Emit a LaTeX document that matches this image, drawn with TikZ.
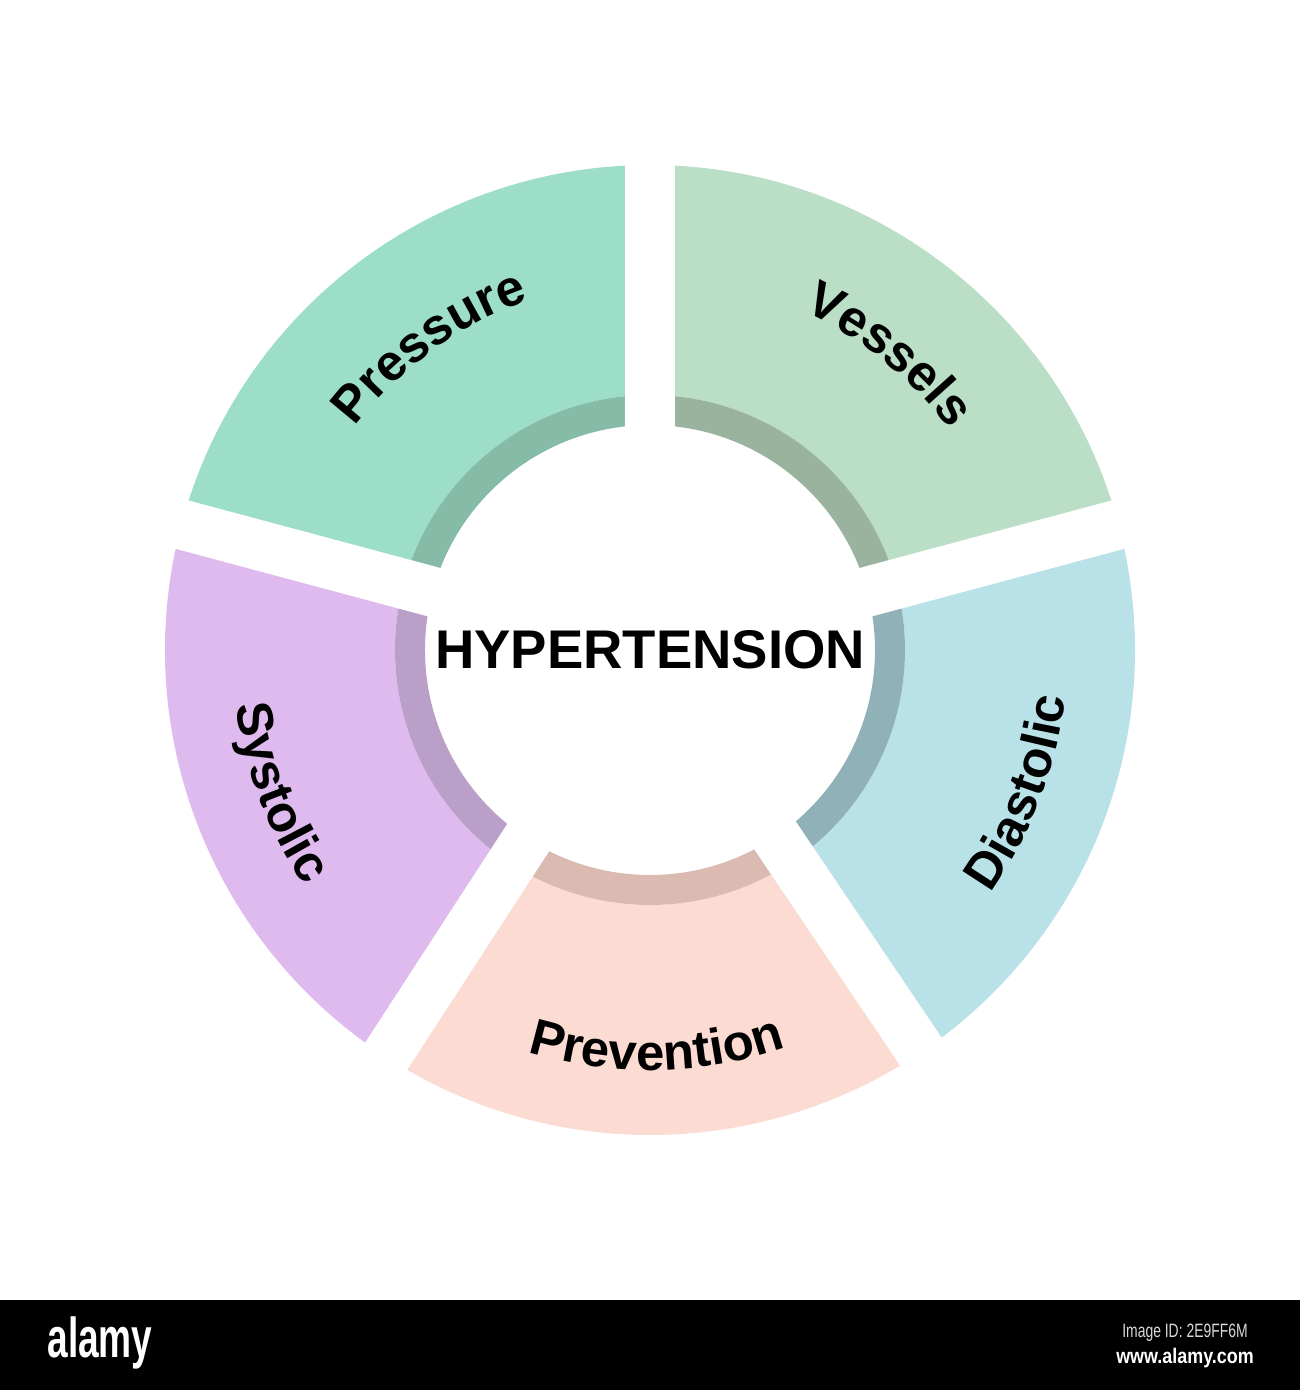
\documentclass[tikz,border=0pt]{standalone}
\usepackage{fontspec}
\setmainfont{Liberation Sans}
\usetikzlibrary{decorations.text}

\definecolor{pressurefill}{HTML}{9DDEC8}
\definecolor{pressureband}{HTML}{85BBA7}
\definecolor{vesselsfill}{HTML}{BBDEC6}
\definecolor{vesselsband}{HTML}{9AB39F}
\definecolor{diastolicfill}{HTML}{B8E1E8}
\definecolor{diastolicband}{HTML}{8FB1B7}
\definecolor{preventionfill}{HTML}{FBDBD2}
\definecolor{preventionband}{HTML}{DBBAB2}
\definecolor{systolicfill}{HTML}{DFBAEE}
\definecolor{systolicband}{HTML}{BA9FC8}

\newcommand{\segfont}{\bfseries\fontsize{14.5}{14.5}\selectfont}

\tikzset{
  gapline/.style={white, line width=0.5cm},
  arclabel/.style={decorate, decoration={text along path, text align=center, text={#1}}},
}

\begin{document}
\begin{tikzpicture}
      \useasboundingbox (-6.5,-7.4) rectangle (6.5,6.5);
      % segments
      \fill[pressurefill] (90:4.85) arc[start angle=90, end angle=165, radius=4.85]
        -- (165:2.55) arc[start angle=165, end angle=90, radius=2.55] -- cycle;
      \fill[pressureband] (90:2.55) arc[start angle=90, end angle=165, radius=2.55]
        -- (165:2.25) arc[start angle=165, end angle=90, radius=2.25] -- cycle;
      \fill[vesselsfill] (15:4.85) arc[start angle=15, end angle=90, radius=4.85]
        -- (90:2.55) arc[start angle=90, end angle=15, radius=2.55] -- cycle;
      \fill[vesselsband] (15:2.55) arc[start angle=15, end angle=90, radius=2.55]
        -- (90:2.25) arc[start angle=90, end angle=15, radius=2.25] -- cycle;
      \fill[diastolicfill] (-56:4.85) arc[start angle=-56, end angle=15, radius=4.85]
        -- (15:2.55) arc[start angle=15, end angle=-56, radius=2.55] -- cycle;
      \fill[diastolicband] (-56:2.55) arc[start angle=-56, end angle=15, radius=2.55]
        -- (15:2.25) arc[start angle=15, end angle=-56, radius=2.25] -- cycle;
      \fill[preventionfill] (-123:4.85) arc[start angle=-123, end angle=-56, radius=4.85]
        -- (-56:2.55) arc[start angle=-56, end angle=-123, radius=2.55] -- cycle;
      \fill[preventionband] (-123:2.55) arc[start angle=-123, end angle=-56, radius=2.55]
        -- (-56:2.25) arc[start angle=-56, end angle=-123, radius=2.25] -- cycle;
      \fill[systolicfill] (165:4.85) arc[start angle=165, end angle=237, radius=4.85]
        -- (237:2.55) arc[start angle=237, end angle=165, radius=2.55] -- cycle;
      \fill[systolicband] (165:2.55) arc[start angle=165, end angle=237, radius=2.55]
        -- (237:2.25) arc[start angle=237, end angle=165, radius=2.25] -- cycle;
      % gaps
      \begin{scope}[gapline]
        \draw (0,0) -- (90:5.2);
        \draw (0,0) -- (165:5.2);
        \draw (0,0) -- (237:5.2);
        \draw (0,0) -- (304:5.2);
        \draw (0,0) -- (15:5.2);
      \end{scope}
      % labels
      \path[arclabel={|\segfont|Pressure}] (156:3.7) arc[start angle=156, end angle=96, radius=3.7];
      \path[arclabel={|\segfont|Vessels}] (81:3.72) arc[start angle=81, end angle=21, radius=3.72];
      \path[arclabel={|\segfont|Diastolic}] (-51:4.18) arc[start angle=-51, end angle=9, radius=4.18];
      \path[arclabel={|\segfont|Prevention}] (-119:4.2) arc[start angle=-119, end angle=-59, radius=4.2];
      \path[arclabel={|\segfont|Systolic}] (171:4.18) arc[start angle=171, end angle=231, radius=4.18];
      \node (title) at (0,0) {\bfseries\fontsize{15.5}{15.5}\selectfont HYPERTENSION};
      % bottom bar
      \fill[black] (-6.5,-7.4) rectangle (6.5,-6.5);
      \node[white, xscale=0.66] (logo) at (-5.5,-6.93) {\bfseries\fontsize{16}{16}\selectfont alamy};
      \node[white!85!black, xscale=0.72] (imageid) at (5.35,-6.83) {\fontsize{5.5}{5.5}\selectfont Image ID: 2E9FF6M};
      \node[white, xscale=0.85] (website) at (5.35,-7.08) {\bfseries\fontsize{6}{6}\selectfont www.alamy.com};
    \end{tikzpicture}
\end{document}
